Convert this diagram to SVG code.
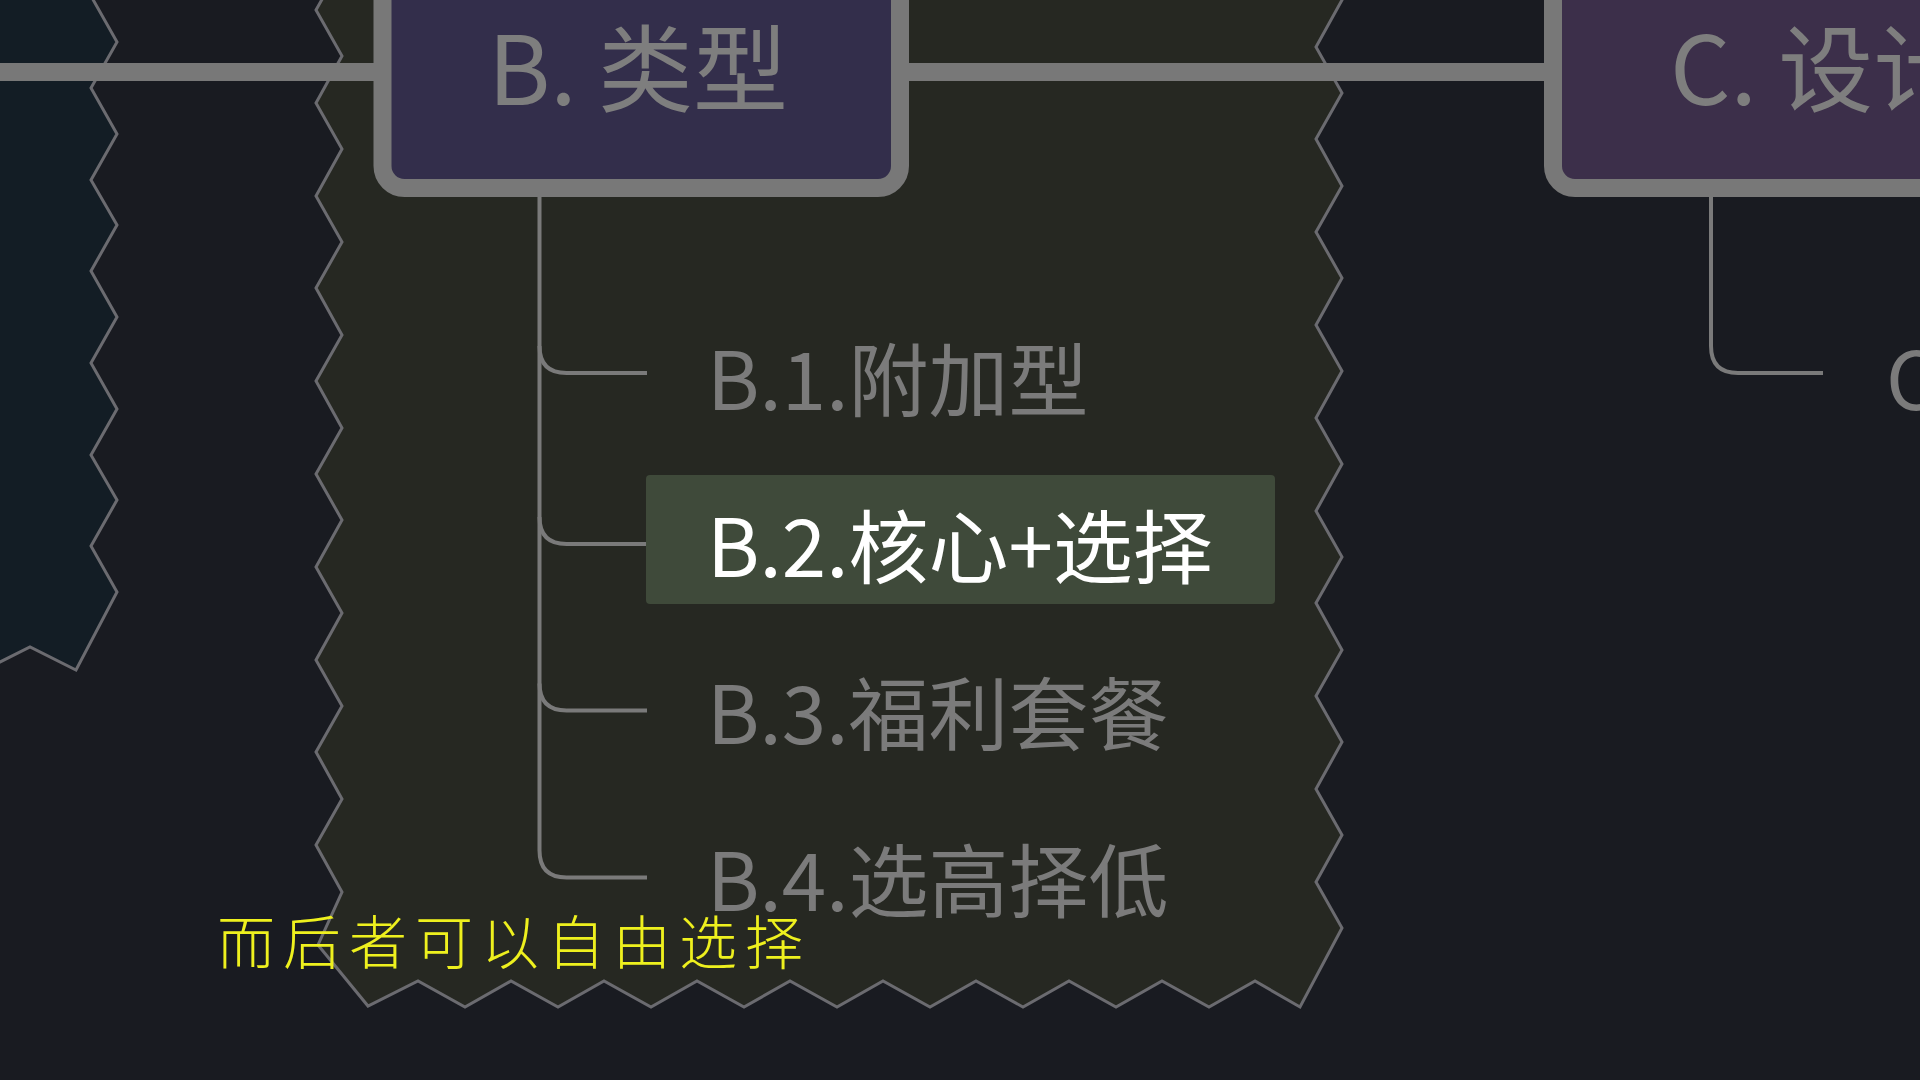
<svg xmlns="http://www.w3.org/2000/svg" width="1920" height="1080" viewBox="0 0 1920 1080">
  <style>
    .panel-edge { stroke: #6b6b70; stroke-width: 3; stroke-linejoin: miter; }
    .topic { stroke: #787878; stroke-width: 18; }
    .topic-text { font-family: "Noto Sans CJK SC", "Noto Sans", sans-serif; font-size: 95px; fill: #7e7e7e; }
    .sub-text { font-family: "Noto Sans CJK SC", "Noto Sans", sans-serif; font-size: 80px; fill: #7b7b7b; }
    .sub-text.active { fill: #ffffff; }
    .branch { fill: none; stroke: #7a7a7a; stroke-width: 4; }
    .trunk { fill: none; stroke: #787878; stroke-width: 18; }
    .caption { font-family: "Noto Sans CJK SC", sans-serif; font-size: 58px; font-weight: 300; fill: #eef01e; letter-spacing: 8px; }
  </style>

  <rect x="0" y="0" width="1920" height="1080" fill="#191b21"/>

  <!-- background panels -->
  <g id="panel-left">
    <path class="panel-edge" fill="#131d25" d="M-10,-10 L91,-4 L117,42 L91,88 L117,134 L91,180 L117,225 L91,271 L117,317 L91,363 L117,409 L91,455 L117,500 L91,546 L117,592 L76,670 L30,647 L-16,670 L-20,-10 Z"/>
  </g>
  <g id="panel-middle">
    <path class="panel-edge" fill="#262822" d="M342,-36 L316,10 L342,56 L316,103 L342,149 L316,196 L342,242 L316,288 L342,335 L316,381 L342,428 L316,474 L342,520 L316,567 L342,613 L316,660 L342,706 L316,752 L342,799 L316,845 L342,892 L318,945 L368,1006 L418,981 L465,1007 L511,981 L558,1007 L604,981 L651,1007 L697,981 L744,1007 L790,981 L837,1007 L883,981 L930,1007 L976,981 L1023,1007 L1069,981 L1116,1007 L1162,981 L1209,1007 L1255,981 L1300,1007 L1342,928 L1316,882 L1342,835 L1316,789 L1342,742 L1316,696 L1342,650 L1316,603 L1342,557 L1316,511 L1342,464 L1316,418 L1342,371 L1316,325 L1342,278 L1316,232 L1342,186 L1316,139 L1342,93 L1316,47 L1342,0 L1316,-46 L1316,-60 L342,-60 Z"/>
  </g>

  <!-- connectors -->
  <g id="connectors">
    <path class="trunk" d="M0,72 H1553"/>
    <path class="branch" d="M539.5,188 V850.5 Q539.5,877.5 566.5,877.5 H647"/>
    <path class="branch" d="M539.5,346 Q539.5,373 566.5,373 H647"/>
    <path class="branch" d="M539.5,517 Q539.5,544 566.5,544 H647"/>
    <path class="branch" d="M539.5,683.5 Q539.5,710.5 566.5,710.5 H647"/>
    <path class="branch" d="M1711,188 V346 Q1711,373 1738,373 H1823"/>
  </g>

  <g id="node-B">
    <rect class="topic" x="382.5" y="-60" width="517.5" height="248" rx="22" fill="#332e4b"/>
    <text class="topic-text" x="638" y="105" text-anchor="middle">B. 类型</text>
  </g>

  <g id="node-C">
    <rect class="topic" x="1553" y="-60" width="500" height="248" rx="22" fill="#3c2f4a"/>
    <text class="topic-text" x="1670" y="105">C. 设计</text>
  </g>

  <g id="node-B1">
    <text class="sub-text" x="707" y="410">B.1.附加型</text>
  </g>
  <g id="node-B2">
    <rect x="646" y="475" width="629" height="129" rx="4" fill="#3f4a3a"/>
    <text class="sub-text active" x="707" y="577">B.2.核心+选择</text>
  </g>
  <g id="node-B3">
    <text class="sub-text" x="707" y="744">B.3.福利套餐</text>
  </g>
  <g id="node-B4">
    <text class="sub-text" x="707" y="911">B.4.选高择低</text>
  </g>
  <g id="node-C1">
    <text class="sub-text" x="1886" y="410">C</text>
  </g>

  <text class="caption" x="217" y="964">而后者可以自由选择</text>
</svg>
